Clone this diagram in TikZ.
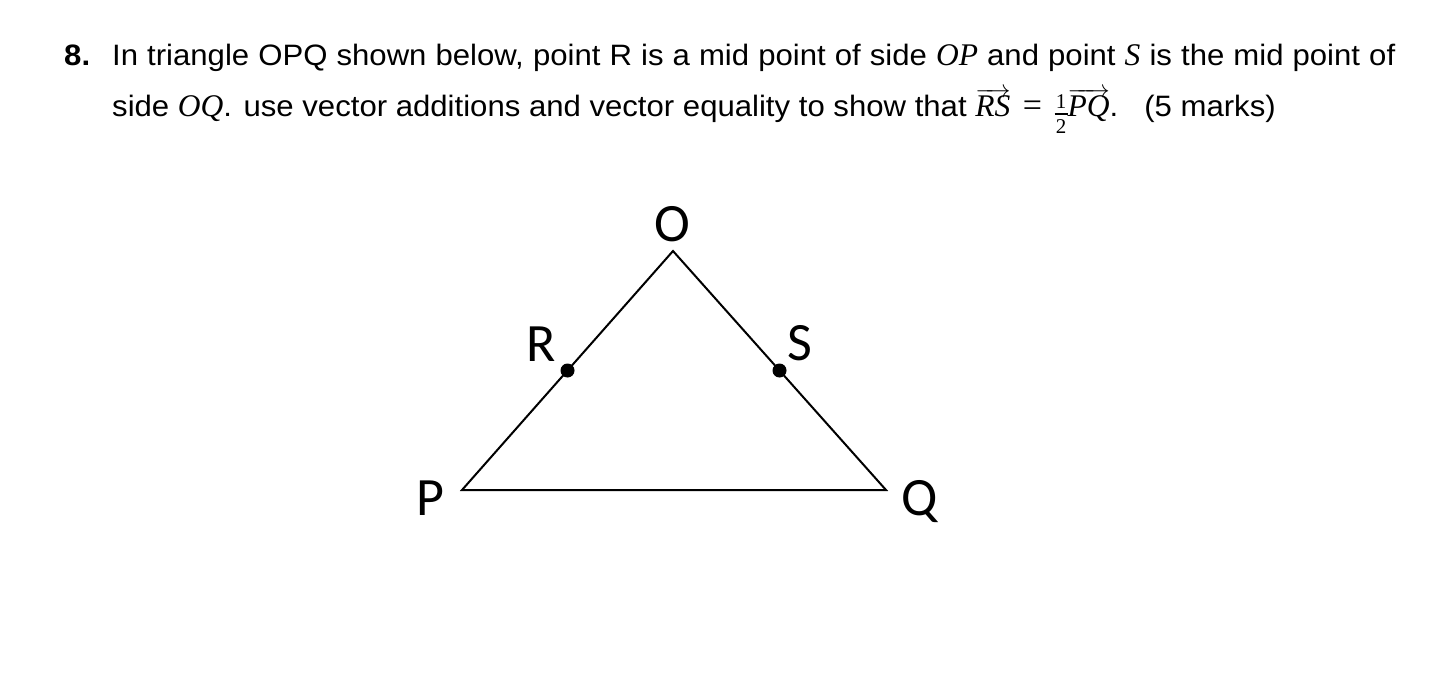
\documentclass[tikz,border=0pt]{standalone}
\usepackage{fontspec}
\setmainfont[FakeStretch=1.055]{Liberation Sans}
\newfontfamily\labelfont{Carlito}
\newfontfamily\mserif{Liberation Serif}
\newcommand{\mv}[1]{\hbox{\mserif\itshape\fontsize{31.5}{34}\selectfont #1}}
\newcommand{\mdig}[1]{\hbox{\mserif\fontsize{21}{22}\selectfont #1}}
\newcommand{\halfrac}{\raisebox{-17pt}{\vbox{\offinterlineskip\halign{\hfil##\hfil\cr\mdig{1}\cr\noalign{\kern5pt}\vrule width 13pt height 1.8pt\cr\noalign{\kern5pt}\mdig{2}\cr}}}}
\usetikzlibrary{calc}
\begin{document}
\begin{tikzpicture}[x=1pt,y=-1pt,
  qtext/.style={anchor=base west,inner sep=0pt,font=\fontsize{29.5}{34}\selectfont},
  vlabel/.style={anchor=base,inner sep=0pt,font=\labelfont\fontsize{54}{60}\selectfont},
  side/.style={line width=2pt,line join=miter},
  middot/.style={circle,fill=black,inner sep=0pt,minimum size=14pt}]
\useasboundingbox (0,0) rectangle (1440,674);
\node[qtext] (n8) at (64,66) {\textbf{8.}};
\node[qtext] (l1) at (112,66) {\hbox to 1283pt{In triangle OPQ shown below, point R is a mid point of side \mv{OP} and point \mv{S} is the mid point of}};
\node[qtext] (l2) at (112,117) {side \mv{OQ}. use vector additions and vector equality to show that $\overrightarrow{\mv{RS}}\mathrel{\hbox{\mserif\fontsize{34}{36}\selectfont\,=\,}}\halfrac\overrightarrow{\mv{PQ}}$.\ \ \ (5 marks)};
\coordinate (O) at (673,251);
\coordinate (P) at (462,490);
\coordinate (Q) at (886,490);
\draw[side] (O) -- (P) -- (Q) -- cycle;
\node[middot] (R) at ($(O)!0.5!(P)$) {};
\node[middot] (S) at ($(O)!0.5!(Q)$) {};
\node[vlabel] (Ol) at (672,241) {O};
\node[vlabel] (Rl) at (541,361) {R};
\node[vlabel] (Sl) at (800,360) {S};
\node[vlabel] (Pl) at (430,515) {P};
\node[vlabel] (Ql) at (920,515) {Q};
\end{tikzpicture}
\end{document}
